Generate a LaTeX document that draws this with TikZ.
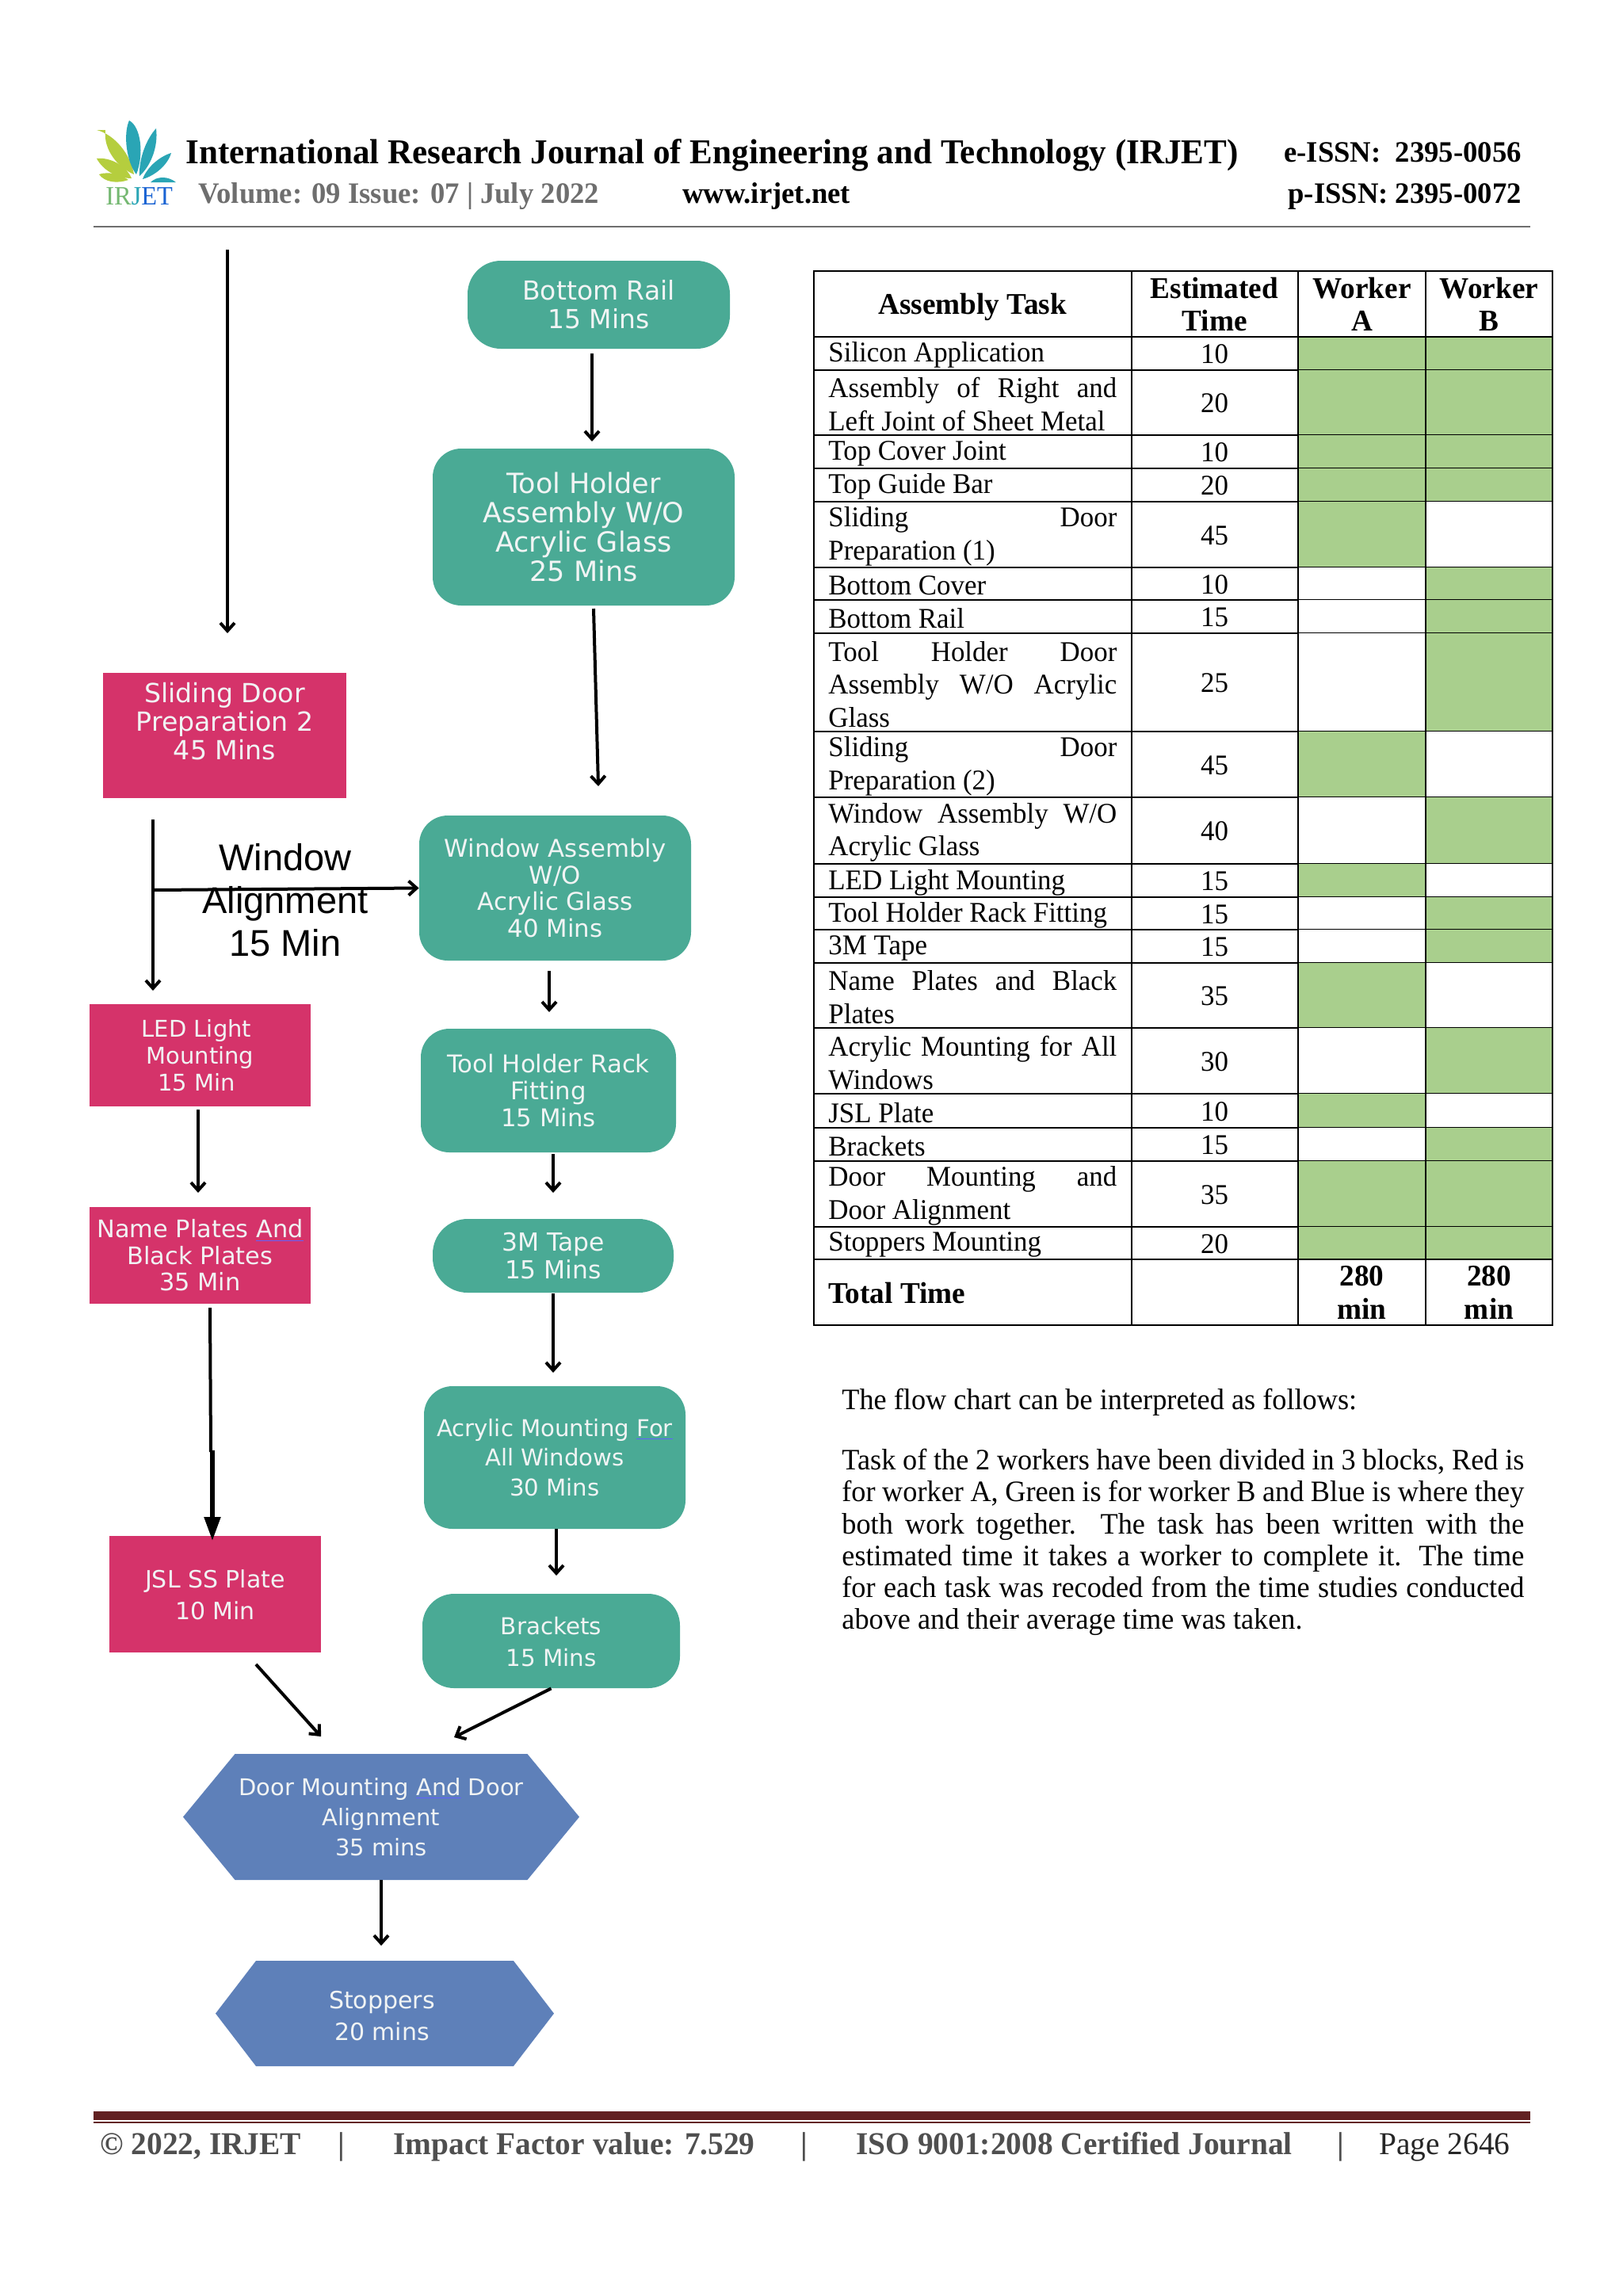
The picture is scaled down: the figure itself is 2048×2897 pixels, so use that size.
\documentclass[tikz,border=0pt]{standalone}
\usepackage{fontspec}
\usepackage{graphicx}
\setmainfont[FakeStretch=0.97]{Liberation Serif}
\newfontfamily\headfont[FakeStretch=0.98]{Liberation Serif}
\newfontfamily\boxfont{DejaVu Sans}
\newfontfamily\arialfont{Liberation Sans}
\usetikzlibrary{arrows.meta,shapes.symbols}
\definecolor{taskred}{HTML}{D5336A}
\definecolor{taskgreen}{HTML}{4AAA95}
\definecolor{taskblue}{HTML}{5E80B9}
\definecolor{boxtext}{HTML}{F1F4F4}
\definecolor{cellgreen}{HTML}{A9CF8D}
\definecolor{footred}{HTML}{622122}
\definecolor{headgray}{HTML}{6E6E6E}
\definecolor{footgray}{HTML}{4F4F4F}
\definecolor{limeleaf}{HTML}{B5CE3E}
\definecolor{tealleaf}{HTML}{2AA5B5}
\newcommand{\bsize}[2]{\boxfont\fontsize{#1}{#2}\selectfont}
\newcommand{\tsize}{\fontsize{18}{20.8}\selectfont}
\newcommand{\jl}[1]{\makebox[182pt][s]{#1}}
\newcommand{\pl}[1]{\makebox[430.5pt][s]{#1}}
\newcommand{\spellmark}[1]{\rlap{\textcolor{blue!60!boxtext}{\underline{\phantom{#1}}}}#1}

\begin{document}
\begin{tikzpicture}[x=0.5pt,y=-0.5pt,
    redbox/.style={fill=taskred,text=boxtext,align=center,inner sep=0pt},
    greenbox/.style={fill=taskgreen,text=boxtext,align=center,inner sep=0pt,rounded corners=18pt},
    bluebox/.style={signal,signal to=west and east,fill=taskblue,text=boxtext,align=center,inner sep=0pt},
    flowarrow/.style={line width=2pt,-{Straight Barb[length=5pt,width=9pt]}},
    headtext/.style={anchor=base west,inner sep=0pt,font=\headfont\bfseries\fontsize{22}{26}\selectfont},
    smallhead/.style={headtext,font=\headfont\bfseries\fontsize{18.7}{22}\selectfont},
    foottext/.style={anchor=base west,inner sep=0pt,text=footgray,font=\headfont\bfseries\fontsize{20.1}{24}\selectfont},
    tasktext/.style={anchor=west,inner sep=0pt,align=left,yshift=-1.2pt,font=\tsize},
    celltext/.style={inner sep=0pt,align=center,yshift=-0.5pt,font=\tsize},
    headcell/.style={inner sep=0pt,align=center,font=\headfont\bfseries\fontsize{19}{20.8}\selectfont},
    tablerule/.style={line width=1pt}]
	\useasboundingbox (0,0) rectangle (2048,2897);

	% page head
	\fill[limeleaf] (122,164) .. controls (145,170) and (165,195) .. (169,220) .. controls (150,212) and (130,190) .. (133,164) -- cycle;
	\fill[limeleaf] (122,200) .. controls (140,198) and (160,210) .. (166,225) .. controls (148,225) and (130,215) .. (122,200) -- cycle;
	\fill[limeleaf] (125,220) .. controls (140,215) and (155,222) .. (162,227) .. controls (148,232) and (132,230) .. (125,220) -- cycle;
	\fill[tealleaf] (163,152) .. controls (178,160) and (182,195) .. (172,220) .. controls (160,205) and (155,170) .. (163,152) -- cycle;
	\fill[tealleaf] (197,162) .. controls (200,185) and (190,210) .. (176,222) .. controls (175,200) and (185,175) .. (197,162) -- cycle;
	\fill[tealleaf] (216,193) .. controls (212,208) and (195,222) .. (180,226) .. controls (185,212) and (200,198) .. (216,193) -- cycle;
	\fill[tealleaf] (222,230) .. controls (212,222) and (198,222) .. (190,230) -- cycle;
	\node[anchor=base west,inner sep=0pt,font=\fontsize{16.7}{20}\selectfont] (logotext) at (133,258) {\textcolor{taskgreen!60!limeleaf}{IR}\textcolor{tealleaf}{J}\textcolor{blue!40!tealleaf}{ET}};
	\node[headtext] (journal) at (234,206) {International Research Journal of Engineering and Technology (IRJET)};
	\node[smallhead] (eissn) at (1620,204) {e-ISSN:\ \ 2395-0056};
	\node[smallhead,text=headgray] (volume) at (250,256) {Volume: 09 Issue: 07 | July 2022};
	\node[smallhead] (website) at (861,256) {www.irjet.net};
	\node[smallhead] (pissn) at (1625,256) {p-ISSN: 2395-0072};
	\draw[headgray,line width=1.2pt] (118,286) -- (1931,286);

	% flow chart, right column
	\node[greenbox,rounded corners=21pt,minimum width=165.5pt,minimum height=55.5pt,font=\bsize{16.5}{18}] (rail) at (755.5,384.5) {Bottom Rail\\15 Mins};
	\node[greenbox,minimum width=190.5pt,minimum height=99pt,font=\bsize{17.5}{18.4}] (holder) at (736.5,665) {Tool Holder\\Assembly W/O\\Acrylic Glass\\25 Mins};
	\node[greenbox,minimum width=171.5pt,minimum height=91.5pt,font=\bsize{15.4}{16.9}] (window) at (700.5,1120.5) {Window Assembly\\W/O\\Acrylic Glass\\40 Mins};
	\node[greenbox,minimum width=161pt,minimum height=78pt,font=\bsize{15.4}{17}] (rack) at (692,1376) {Tool Holder Rack\\Fitting\\15 Mins};
	\node[greenbox,rounded corners=22pt,minimum width=152pt,minimum height=46.5pt,font=\bsize{15.7}{17.5}] (tape) at (698,1584.5) {3M Tape\\15 Mins};
	\node[greenbox,minimum width=165pt,minimum height=90pt,font=\bsize{14.6}{18.7}] (acrylic) at (700,1839) {Acrylic Mounting \spellmark{For}\\All Windows\\30 Mins};
	\node[greenbox,rounded corners=20pt,minimum width=162.5pt,minimum height=59.5pt,font=\bsize{14.7}{19.7}] (brackets) at (695.5,2070.5) {\rule{0pt}{12pt}Brackets\\15 Mins};

	% flow chart, left column
	\node[redbox,minimum width=153.5pt,minimum height=79pt,font=\bsize{16.6}{18}] (sliding) at (283.5,928) {Sliding Door\\Preparation 2\\45 Mins\\\mbox{}};
	\node[redbox,minimum width=139.5pt,minimum height=64.5pt,font=\bsize{14.5}{17}] (led) at (252.5,1331.5) {LED Light\hspace*{4.5pt}\\Mounting\hspace*{4.5pt}\\15 Min\hspace*{4.5pt}};
	\node[redbox,minimum width=139.5pt,minimum height=61pt,font=\bsize{15.2}{16.8}] (plates) at (252.5,1584) {Name Plates \spellmark{And}\\Black Plates\\35 Min};
	\node[redbox,minimum width=133.5pt,minimum height=73.5pt,font=\bsize{15}{19.7}] (jsl) at (271.5,2011.5) {\rule{0pt}{12pt}JSL SS Plate\\10 Min};
	\node[inner sep=0pt,align=center,font=\arialfont\fontsize{23.5}{27}\selectfont] (alignlabel) at (360,1136) {Window\\Alignment\\15 Min};

	% flow chart, bottom
	\node[bluebox,signal pointer angle=101,minimum width=250pt,minimum height=79.5pt,font=\bsize{14.5}{19}] (door) at (481,2292.5) {Door Mounting \spellmark{And} Door\\Alignment\\35 mins};
	\node[bluebox,signal pointer angle=105,minimum width=213.5pt,minimum height=66.5pt,font=\bsize{15}{19.7}] (stoppers) at (485.5,2540.5) {\rule{0pt}{14pt}Stoppers\hspace*{3.5pt}\\20 mins\hspace*{3.5pt}};

	% arrow ends that stop short of the boxes
	\coordinate (topstart) at (287,315);
	\coordinate (topend) at (287,799);
	\coordinate (railout) at (747,446);
	\coordinate (holderin) at (747,557);
	\coordinate (holderout) at (749,768);
	\coordinate (windowin) at (755,992);
	\coordinate (windowout) at (693,1225);
	\coordinate (rackin) at (693,1277);
	\coordinate (rackout) at (698,1456);
	\coordinate (tapein) at (698,1505);
	\coordinate (tapeout) at (698,1632);
	\coordinate (acrylicin) at (698,1732);
	\coordinate (acrylicout) at (702,1929);
	\coordinate (bracketsin) at (702,1988);
	\coordinate (slidingout) at (193,1034);
	\coordinate (ledin) at (193,1250);
	\coordinate (split) at (193,1123);
	\coordinate (ledout) at (250,1400);
	\coordinate (platesin) at (250,1505);
	\coordinate (platesout) at (265,1650);
	\coordinate (jogone) at (266,1832);
	\coordinate (jogtwo) at (268,1830);
	\coordinate (jslin) at (268,1944);
	\coordinate (jslout) at (323,2100);
	\coordinate (doorleft) at (405,2191);
	\coordinate (doorright) at (573,2192);
	\coordinate (stoppersin) at (481,2455);

	\draw[flowarrow] (topstart) -- (topend);
	\draw[flowarrow] (railout) -- (holderin);
	\draw[flowarrow] (holderout) -- (windowin);
	\draw[flowarrow] (windowout) -- (rackin);
	\draw[flowarrow] (rackout) -- (tapein);
	\draw[flowarrow] (tapeout) -- (acrylicin);
	\draw[flowarrow] (acrylicout) -- (bracketsin);
	\draw[flowarrow] (slidingout) -- (ledin);
	\draw[flowarrow] (split) -- (window.west);
	\draw[flowarrow] (ledout) -- (platesin);
	\draw[line width=2pt] (platesout) -- (jogone);
	\draw[line width=2.6pt,-{Triangle[length=15pt,width=10pt]}] (jogtwo) -- (jslin);
	\draw[flowarrow] (jslout) -- (doorleft);
	\draw[flowarrow] (brackets.south) -- (doorright);
	\draw[flowarrow] (door.south) -- (stoppersin);

	% table
	\foreach \ya/\yb/\task/\mins/\cola/\colb [count=\r] in {
		424.6/466.6/{Silicon Application}/10/cellgreen/cellgreen,
		466.6/549/{\jl{Assembly of Right and}\\Left Joint of Sheet Metal}/20/cellgreen/cellgreen,
		549/591/{Top Cover Joint}/10/cellgreen/cellgreen,
		591/632.7/{Top Guide Bar}/20/cellgreen/cellgreen,
		632.7/716/{\jl{Sliding Door}\\Preparation (1)}/45/cellgreen/white,
		716/757/{Bottom Cover}/10/white/cellgreen,
		757/799/{Bottom Rail}/15/white/cellgreen,
		799/923/{\jl{Tool Holder Door}\\\jl{Assembly W/O Acrylic}\\Glass}/25/white/cellgreen,
		923/1006/{\jl{Sliding Door}\\Preparation (2)}/45/cellgreen/white,
		1006/1090/{\jl{Window Assembly W/O}\\Acrylic Glass}/40/white/cellgreen,
		1090/1132/{LED Light Mounting}/15/cellgreen/white,
		1132/1173/{Tool Holder Rack Fitting}/15/white/cellgreen,
		1173/1215/{3M Tape}/15/white/cellgreen,
		1215/1297/{\jl{Name Plates and Black}\\Plates}/35/cellgreen/white,
		1297/1380/{\jl{Acrylic Mounting for All}\\Windows}/30/white/cellgreen,
		1380/1423/{JSL Plate}/10/cellgreen/white,
		1423/1465/{Brackets}/15/white/cellgreen,
		1465/1548/{\jl{Door Mounting and}\\Door Alignment}/35/cellgreen/cellgreen,
		1548/1589/{Stoppers Mounting}/20/cellgreen/cellgreen}{
		\fill[\cola] (1638,\ya) rectangle (1799,\yb);
		\fill[\colb] (1799,\ya) rectangle (1959,\yb);
		\draw[tablerule] (1027,\yb) -- (1959,\yb);
		\node[tasktext] (task\r) at (1045,{(\ya+\yb)/2}) {\task};
		\node[celltext] (mins\r) at (1532.5,{(\ya+\yb)/2}) {\mins};
	}
	\draw[tablerule] (1027,342) rectangle (1959,1672);
	\draw[tablerule] (1027,424.6) -- (1959,424.6);
	\foreach \xcol in {1427.5,1638,1799}{
		\draw[tablerule] (\xcol,342) -- (\xcol,1672);
	}
	\node[headcell] (headtask) at (1227,387) {Assembly Task};
	\node[headcell] (headtime) at (1532.5,384) {Estimated\\Time};
	\node[headcell] (heada) at (1718.5,384) {Worker\\A};
	\node[headcell] (headb) at (1879,384) {Worker\\B};
	\node[headcell,anchor=west] (total) at (1045,1631) {Total Time};
	\node[headcell] (totala) at (1718.5,1631) {280\\min};
	\node[headcell] (totalb) at (1879,1631) {280\\min};

	% text below the table
	\node[anchor=base west,inner sep=0pt,font=\fontsize{18.7}{20.1}\selectfont] (intro) at (1062,1778) {The flow chart can be interpreted as follows:};
	\node[anchor=north west,inner sep=0pt,align=left,font=\fontsize{18.7}{20.1}\selectfont] (para) at (1062,1828) {\pl{Task of the 2 workers have been divided in 3 blocks, Red is}\\
		\pl{for worker A, Green is for worker B and Blue is where they}\\
		\pl{both work together. The task has been written with the}\\
		\pl{estimated time it takes a worker to complete it. The time}\\
		\pl{for each task was recoded from the time studies conducted}\\
		above and their average time was taken.};

	% page foot
	\fill[footred] (118,2664) rectangle (1931,2675);
	\fill[footred] (118,2677) rectangle (1931,2679);
	\node[foottext] (copy) at (126,2718) {\textcopyright\ 2022, IRJET};
	\node[foottext] (barone) at (426,2718) {|};
	\node[foottext] (impact) at (496,2718) {Impact Factor value: 7.529};
	\node[foottext] (bartwo) at (1010,2718) {|};
	\node[foottext] (iso) at (1080,2718) {ISO 9001:2008 Certified Journal};
	\node[foottext] (barthree) at (1687,2718) {|};
	\node[foottext,text=black!85,font=\headfont\fontsize{20.1}{24}\selectfont] (page) at (1740,2718) {Page 2646};
\end{tikzpicture}
\end{document}
